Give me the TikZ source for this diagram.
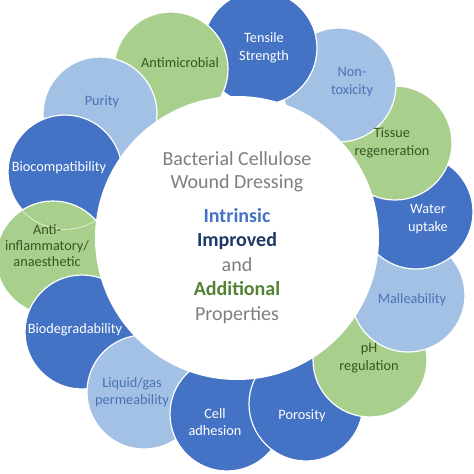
\documentclass[tikz,border=0pt]{standalone}
\usepackage{fontspec}
\setmainfont{Carlito}
\definecolor{dkblue}{HTML}{4472C4}
\definecolor{ltblue}{HTML}{A3C0E5}
\definecolor{grn}{HTML}{A9CF8D}
\definecolor{ltbluetext}{HTML}{4A72B6}
\definecolor{grntext}{HTML}{375623}
\definecolor{navy}{HTML}{203864}
\definecolor{addgreen}{HTML}{548235}
\definecolor{graytext}{HTML}{7F7F7F}
\tikzset{
 petal/.style={circle, draw=white, line width=1.2pt, minimum size=114pt, inner sep=0pt},
 pdark/.style={petal, fill=dkblue},
 plight/.style={petal, fill=ltblue},
 pgreen/.style={petal, fill=grn},
 lab/.style={align=center, font=\fontsize{14.3}{17.5}\selectfont, inner sep=0pt},
 labw/.style={lab, text=white},
 labb/.style={lab, text=ltbluetext},
 labg/.style={lab, text=grntext},
}
\begin{document}
\begin{tikzpicture}[x=1pt,y=-1pt]
\useasboundingbox (0,0) rectangle (474,474);
\clip (0,0) rectangle (474,474);
\fill[white] (0,0) rectangle (474,474);
% petals, bottom layer first
\node[pgreen] (anti) at (53,258) {};
\node[pdark] (biodeg) at (82,332) {};
\node[plight] (liquid) at (144,392) {};
\node[pdark] (cell) at (227,414) {};
\node[pdark] (poro) at (306,404) {};
\node[pgreen] (ph) at (370,360) {};
\node[plight] (mall) at (408,295) {};
\node[pdark] (water) at (416,212) {};
\node[pgreen] (tissue) at (395,143) {};
\node[plight] (nontox) at (339,85) {};
\node[pdark] (tensile) at (260,48) {};
\node[pgreen] (antimic) at (171,69) {};
\node[plight] (purity) at (100,114) {};
\node[pdark] (biocomp) at (65,172) {};
% close the ring: the first petal lies over the last one
\begin{scope}
\clip (biocomp.center) circle (57pt);
\node[pgreen] (antiTop) at (anti.center) {};
\end{scope}
% central disc
\node[circle, fill=white, minimum size=284pt, inner sep=0pt] (core) at (237,238) {};
% labels
\node[labw] (tTensile) at (264,48) {Tensile\\Strength};
\node[labb] (tNontox) at (352,82) {Non-\\toxicity};
\node[labg] (tTissue) at (392,143) {Tissue\\regeneration};
\node[labw] (tWater) at (428,219) {Water\\uptake};
\node[labb] (tMall) at (412,300) {Malleability};
\node[labg] (tPh) at (369,358) {pH\\regulation};
\node[labw] (tPoro) at (302,416) {Porosity};
\node[labw] (tCell) at (215,422) {Cell\\adhesion};
\node[labb] (tLiquid) at (132,392) {Liquid/gas\\permeability};
\node[labw] (tBiodeg) at (75,330) {Biodegradability};
\node[labg, font=\fontsize{14.3}{16}\selectfont] (tAnti) at (47,246) {Anti-\\inflammatory/\\anaesthetic};
\node[labw] (tBiocomp) at (59,168) {Biocompatibility};
\node[labb] (tPurity) at (102,102) {Purity};
\node[labg] (tAntimic) at (180,63) {Antimicrobial};
% centre text
\node[align=center, inner sep=0pt, text=graytext, font=\fontsize{20}{23}\selectfont] (title) at (237,172) {Bacterial Cellulose\\Wound Dressing};
\node[align=center, inner sep=0pt, font=\fontsize{20}{24.5}\selectfont] (props) at (237,266)
 {{\color{dkblue}\bfseries Intrinsic}\\{\color{navy}\bfseries Improved}\\{\color{graytext}and}\\{\color{addgreen}\bfseries Additional}\\{\color{graytext}Properties}};
\end{tikzpicture}
\end{document}
